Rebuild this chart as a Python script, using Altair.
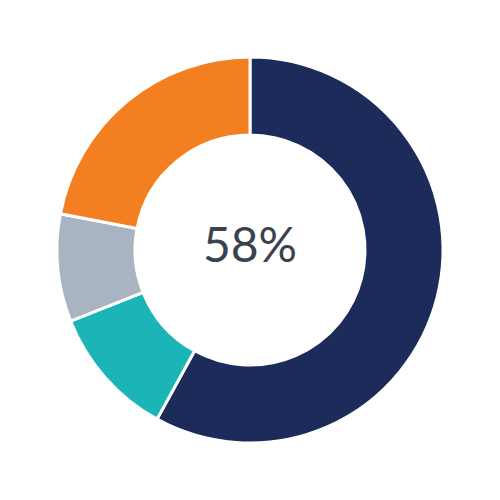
import altair as alt
import pandas as pd

categories = ["A", "B", "C", "D"]
values = [58, 11, 9, 22]
colors = ["#1c2b59", "#1bb5b8", "#a9b3c1", "#f47f20"]
center_label = "58%"

df = pd.DataFrame({"category": categories, "value": values, "order": list(range(len(categories)))})

arc = alt.Chart(df).mark_arc(outerRadius=193, innerRadius=115, stroke="white", strokeWidth=3).encode(
    theta=alt.Theta("value:Q", stack=True),
    order=alt.Order("order:Q"),
    color=alt.Color("category:N", scale=alt.Scale(domain=categories, range=colors), legend=None),
)

text = alt.Chart(pd.DataFrame({"t": [center_label]})).mark_text(
    font="Lato", fontSize=48, color="#3b424e", baseline="middle", align="center", dy=-2
).encode(text="t:N")

chart = (arc + text).properties(
    width=484, height=484, padding=0, autosize=alt.AutoSizeParams(type="none")
).configure_view(stroke=None)

chart.save("out.html", embed_options={"renderer": "svg", "actions": False})
